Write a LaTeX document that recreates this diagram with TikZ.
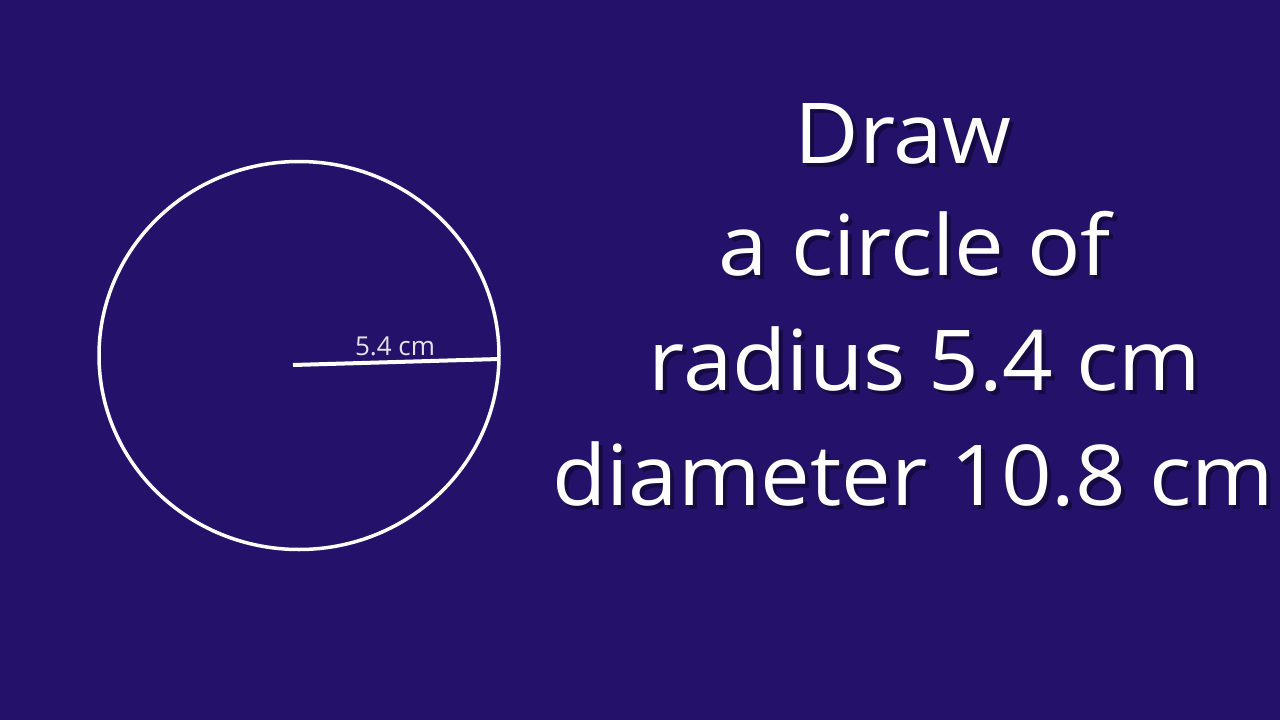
\documentclass[tikz,border=0pt]{standalone}
\usepackage{fontspec}
\setmainfont{Open Sans}
\newfontfamily\bigfont[FakeStretch=1.055]{Open Sans}
\definecolor{bg}{HTML}{24126A}
\definecolor{shade}{HTML}{120838}
\newcommand{\shadowtext}[1]{\makebox[0pt][l]{\hspace{4pt}\raisebox{-4pt}{\textcolor{shade!80!bg}{#1}}}#1}
\begin{document}
\begin{tikzpicture}[x=1pt,y=-1pt,
  big/.style={text=white,font=\bigfont\fontsize{84}{84}\selectfont,anchor=base,inner sep=0pt}]
\fill[bg] (0,0) rectangle (1280,720);
\useasboundingbox (0,0) rectangle (1280,720);
% circle
\coordinate (c) at (299,355.5);
\draw[white,line width=3.5pt] (c) ellipse [x radius=200, y radius=194];
\coordinate (r0) at (293,365);
\coordinate (r1) at (499,359);
\draw[white,line width=4pt] (r0) -- (r1);
\node[text=white!88!bg,font=\fontsize{26}{26}\selectfont,anchor=base,inner sep=0pt] (lab) at (395,355) {5.4 cm};
% text with shadow
\foreach \t/\xx/\yy [count=\i] in {Draw/903/163, a circle of/915/275, radius 5.4 cm/925/390, diameter 10.8 cm/913/505}{
  \node[big] (t\i) at (\xx,\yy) {\shadowtext{\t}};
}
\end{tikzpicture}
\end{document}
